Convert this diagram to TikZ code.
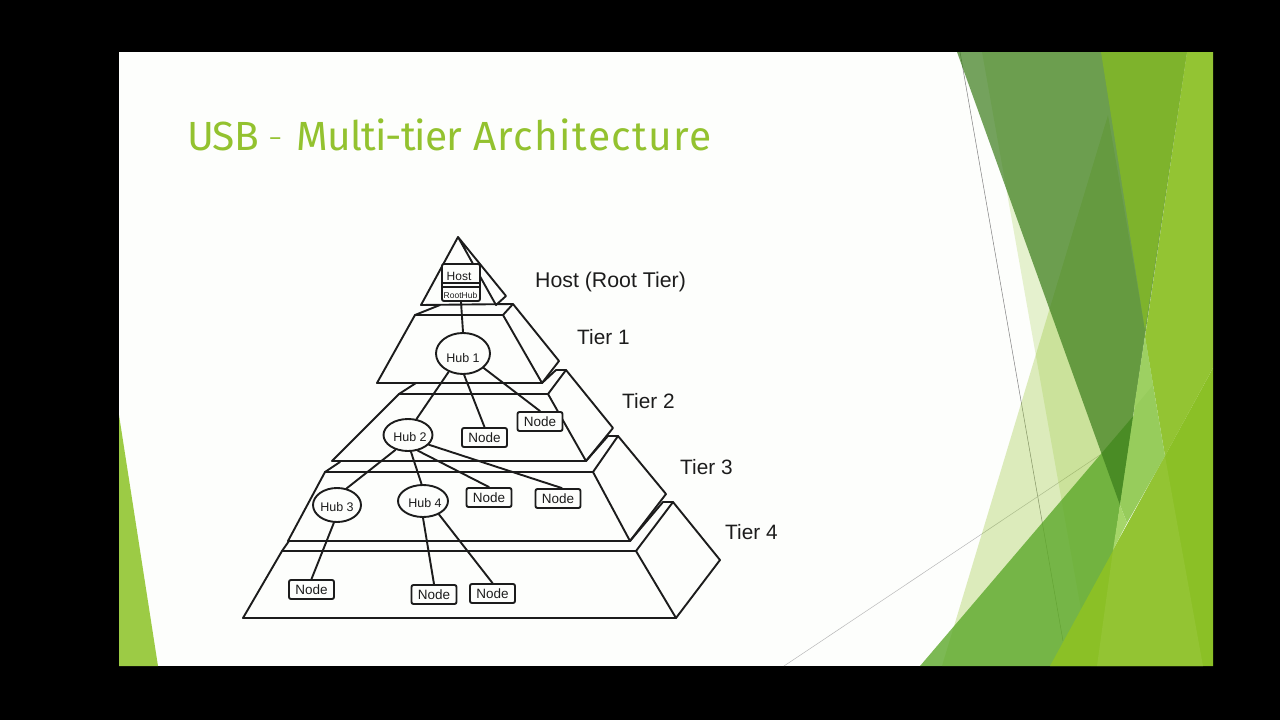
\documentclass[tikz,border=0pt]{standalone}
\usepackage{fontspec}
\setmainfont{Liberation Sans}
\newfontfamily\titlefont{Fira Sans}
\usetikzlibrary{shapes.geometric}
\definecolor{slidebg}{HTML}{FDFEFC}
\definecolor{titlegreen}{HTML}{93C22F}
\definecolor{leftgreen}{HTML}{9CCB45}
\definecolor{basegreen}{HTML}{90C226}
\definecolor{darkgreen}{HTML}{3A7C1A}
\definecolor{midgreen}{HTML}{5CA82A}
\definecolor{bandgreen}{HTML}{7EB32C}
\definecolor{lightband}{HTML}{93C433}
\definecolor{lowgreen}{HTML}{8BC026}
\definecolor{glowA}{HTML}{97CC5C}
\definecolor{glowB}{HTML}{9DD062}
\definecolor{glowC}{HTML}{A5D669}
\definecolor{inkline}{HTML}{1C1C1C}
\newcommand{\hublabel}[2]{\raisebox{#1}[0pt][0pt]{\makebox[0pt]{#2}}}
\newcommand{\devlabel}{\raisebox{-5pt}[0pt][0pt]{\makebox[0pt]{Node}}}
\tikzset{
  ink/.style={draw=inkline,line width=1.9pt,line join=round,line cap=round},
  hub/.style={ellipse,draw=inkline,line width=1.9pt,fill=slidebg,inner sep=0pt,text=inkline,font=\fontsize{12.5}{14}\selectfont},
  devbox/.style={rectangle,rounded corners=2pt,draw=inkline,line width=1.9pt,fill=slidebg,inner sep=0pt,minimum width=45pt,minimum height=19pt,text=inkline,font=\fontsize{13.5}{15}\selectfont},
  tierlabel/.style={anchor=west,inner sep=0pt,text=inkline,font=\fontsize{20.8}{24}\selectfont},
}
\begin{document}
\begin{tikzpicture}[x=1pt,y=-1pt]
\useasboundingbox (0,0) rectangle (1280,720);
\fill[black] (0,0) rectangle (1280,720);
\fill[slidebg] (119,52) rectangle (1213,666);
% left wedge
\fill[leftgreen] (119,415) -- (158,666) -- (119,666) -- cycle;
% facets on the right
\begin{scope}
\clip (119,52) rectangle (1213,666);
\draw[black!50,line width=0.5pt] (960,52) -- (1063,641);
\draw[black!28,line width=0.5pt] (784,666) -- (1100,455);
\fill[basegreen,opacity=.21] (982,52) -- (1187,52) -- (1120,505) -- (1120,666) -- (1091,666) -- cycle;
\fill[basegreen,opacity=.30] (1108,115) -- (1145,330) -- (1120,505) -- (1097,666) -- (942,666) -- cycle;
\fill[midgreen,opacity=.80] (920,666) -- (1147,400) -- (1120,505) -- (1097,666) -- cycle;
\fill[darkgreen,opacity=.70] (957,52) -- (1187,52) -- (1120,505) -- cycle;
\fill[bandgreen] (1101,52) -- (1187,52) -- (1145,330) -- cycle;
\fill[lowgreen] (1050,666) -- (1213,368) -- (1213,666) -- cycle;
\fill[lightband] (1187,52) -- (1213,52) -- (1213,368) -- (1165,456) -- (1145,337) -- cycle;
\fill[lightband] (1113,550) -- (1165,456) -- (1203,666) -- (1097,666) -- cycle;
\fill[glowA] (1145,337) -- (1165,456) -- (1127,523) -- (1120,505) -- cycle;
\fill[glowB] (1145,337) -- (1153,385) -- (1134,408) -- cycle;
\fill[glowC] (1120,505) -- (1127,523) -- (1113,550) -- cycle;
\end{scope}
% title
\node[anchor=base west,inner sep=0pt,text=titlegreen,font=\titlefont\fontsize{40.7}{48}\selectfont] (title) at (187,150) {{\addfontfeature{LetterSpace=-2.4}USB} \raisebox{5pt}{\fontsize{22}{22}\selectfont –} \hspace{5pt}{\addfontfeature{LetterSpace=-2.2}Multi-tier} {\addfontfeature{LetterSpace=3.3}Architecture}};
% host tier
\draw[ink] (458,237) -- (421,305) -- (513,304) -- (559,361) -- (542,383) -- (377,383) -- (415,315) -- (503,315) -- (513,304);
\draw[ink] (458,237) -- (496,305) -- (506,296) -- cycle;
\draw[ink] (415,315) -- (440,305);
\draw[ink] (503,315) -- (542,383);
% tier 2
\draw[ink] (416,383) -- (399,394) -- (332,461) -- (586,461) -- (613,428) -- (566,370) -- (556,370) -- (542,383);
\draw[ink] (399,394) -- (548,394) -- (586,461);
\draw[ink] (548,394) -- (566,370);
% tier 3
\draw[ink] (340,462) -- (325,472) -- (288,541) -- (630,541) -- (666,494) -- (618,436) -- (608,436) -- (586,461);
\draw[ink] (325,472) -- (593,472) -- (630,541);
\draw[ink] (593,472) -- (618,436);
% tier 4
\draw[ink] (289,541) -- (282,551) -- (243,618) -- (676,618) -- (720,560) -- (673,502) -- (663,502) -- (630,541);
\draw[ink] (282,551) -- (636,551) -- (676,618);
\draw[ink] (636,551) -- (673,502);
% host box
\node[devbox,minimum width=38pt,minimum height=37pt] (hostbox) at (461,282.5) {};
\draw[draw=inkline,line width=1.2pt] (hostbox.west |- 0,283) -- (hostbox.east |- 0,283);
\draw[draw=inkline,line width=1.2pt] (hostbox.west |- 0,287) -- (hostbox.east |- 0,287);
\node[text=inkline,inner sep=0pt,font=\fontsize{12}{14}\selectfont] (hostlabel) at (459,276.5) {Host};
\node[text=inkline,inner sep=0pt,font=\fontsize{8.5}{10}\selectfont] (rootlabel) at (460.5,295) {RootHub};
% hubs and devices
\node[hub,minimum width=54pt,minimum height=41pt] (hubA) at (463,353.5) {\hublabel{-9pt}{Hub 1}};
\node[hub,minimum width=49pt,minimum height=32pt] (hubB) at (408,435) {\hublabel{-6.5pt}{\hspace*{4pt}Hub 2}};
\node[hub,minimum width=48pt,minimum height=34pt] (hubC) at (337,505) {\hublabel{-6.5pt}{Hub 3}};
\node[hub,minimum width=50pt,minimum height=32pt] (hubD) at (423,501) {\hublabel{-6.5pt}{\hspace*{4pt}Hub 4}};
\node[devbox] (nodeA) at (484.5,437.5) {\devlabel};
\node[devbox] (nodeB) at (540,421.5) {\devlabel};
\node[devbox] (nodeC) at (489,497.5) {\devlabel};
\node[devbox] (nodeD) at (558,498.5) {\devlabel};
\node[devbox] (nodeE) at (311.5,589.5) {\devlabel};
\node[devbox] (nodeF) at (434,594.5) {\devlabel};
\node[devbox] (nodeG) at (492.5,593.5) {\devlabel};
% connectors
\draw[ink] (hostbox.south) -- (hubA.north);
\draw[ink] (hubA.232) -- (hubB.62);
\draw[ink] (hubA.273) -- (nodeA.north);
\draw[ink] (hubA.-35) -- (nodeB.north);
\draw[ink] (hubB.-130) -- (hubC.60);
\draw[ink] (hubB.-80) -- (hubD.95);
\draw[ink] (hubB.-58) -- (nodeC.north);
\draw[ink] (hubB.-25) -- (nodeD.70);
\draw[ink] (hubC.-100) -- (nodeE.north);
\draw[ink] (hubD.-90) -- (nodeF.north);
\draw[ink] (hubD.-40) -- (nodeG.north);
% tier labels
\node[tierlabel,font=\fontsize{21.3}{24}\selectfont] (tierhost) at (535,282) {Host (Root Tier)};
\node[tierlabel] (tierA) at (577,337.5) {Tier 1};
\node[tierlabel] (tierB) at (622,401) {Tier 2};
\node[tierlabel] (tierC) at (680,467) {Tier 3};
\node[tierlabel] (tierD) at (725,532) {Tier 4};
\end{tikzpicture}
\end{document}
